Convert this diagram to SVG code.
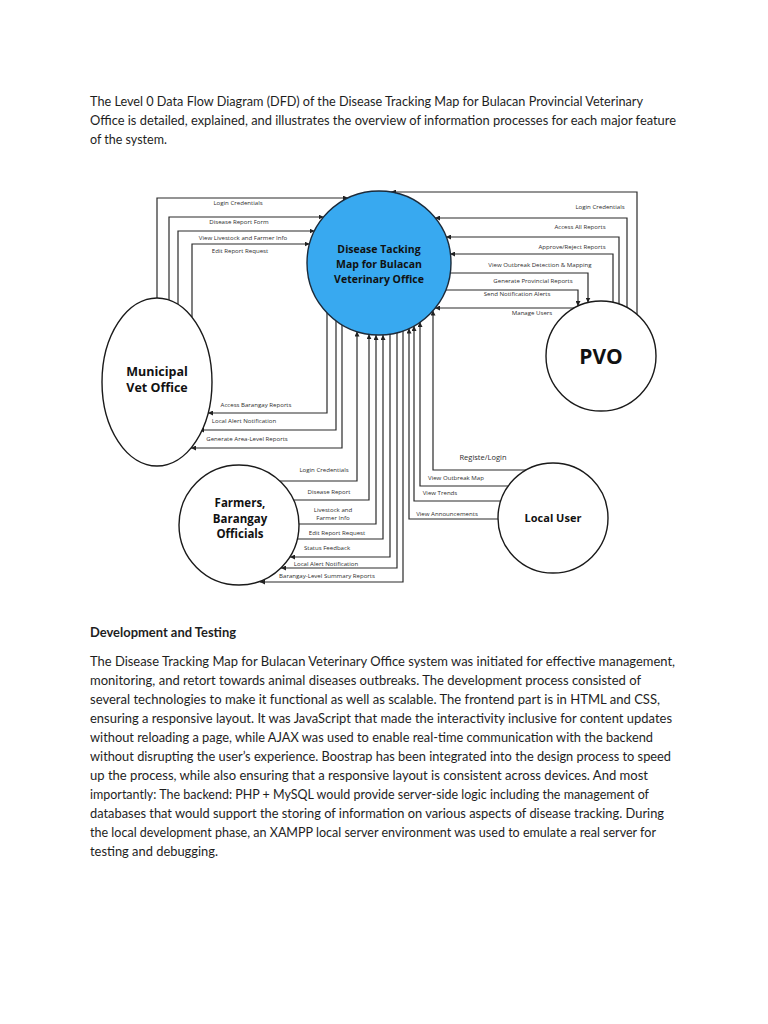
<svg xmlns="http://www.w3.org/2000/svg" width="768" height="1024" viewBox="0 0 768 1024">
<defs>
<marker id="ah" viewBox="0 0 10 10" refX="10" refY="5" markerWidth="5" markerHeight="5" markerUnits="userSpaceOnUse" orient="auto">
<path d="M0,0 L10,5 L0,10 z" fill="#222"/>
</marker>
<style>
.body{font-family:Lato,"Liberation Sans",sans-serif;font-size:13px;fill:#1e1e1e}
.bold{font-weight:bold}
.lbl{font-family:"Open Sans","Liberation Sans",sans-serif;font-size:6.1px;fill:#2e2e2e;text-anchor:middle}
.node{fill:#fff;stroke:#1a1a1a;stroke-width:1.4}
.nt{font-family:"Open Sans","Liberation Sans",sans-serif;font-weight:bold;fill:#111;text-anchor:middle}
.c{fill:none;stroke:#2a2a2a;stroke-width:1.2}
.a{marker-end:url(#ah)}
</style>
</defs>
<rect width="768" height="1024" fill="#fff"/>

<g id="intro">
<text class="body" x="90" y="106" textLength="553" lengthAdjust="spacingAndGlyphs">The Level 0 Data Flow Diagram (DFD) of the Disease Tracking Map for Bulacan Provincial Veterinary</text>
<text class="body" x="90" y="125" textLength="586" lengthAdjust="spacingAndGlyphs">Office is detailed, explained, and illustrates the overview of information processes for each major feature</text>
<text class="body" x="90" y="144" style="font-size:12.5px">of the system.</text>
</g>

<g id="connectors">
<path class="c a" d="M157,298 V198 H348"/>
<path class="c a" d="M169,300 V217 H323.6"/>
<path class="c a" d="M178,304 V231 H314.5"/>
<path class="c a" d="M192,317 V244 H309.6"/>
<path class="c a" d="M327,313 V413 H208"/>
<path class="c a" d="M336,321 V430 H199"/>
<path class="c a" d="M342,325 V448 H191"/>
<path class="c a" d="M637,314 V192 H391"/>
<path class="c a" d="M627,307.5 V218 H435"/>
<path class="c a" d="M619,304 V237 H446"/>
<path class="c a" d="M613,302 V254 H450"/>
<path class="c a" d="M450,273 H588 V302.6"/>
<path class="c a" d="M446,290 H578 V306"/>
<path class="c a" d="M574,308 H435"/>
<path class="c a" d="M280,481 H357 V331.6"/>
<path class="c a" d="M293.5,500 H369 V334.3"/>
<path class="c a" d="M299,524 H376 V335"/>
<path class="c a" d="M297,539 H383 V335"/>
<path class="c a" d="M390,334 V557 H290"/>
<path class="c a" d="M397,332.7 V568 H281"/>
<path class="c a" d="M403,331 V582 H260"/>
<path class="c a" d="M526,470 H433 V310.6"/>
<path class="c a" d="M508,486 H420 V322"/>
<path class="c a" d="M500.7,501 H414 V326"/>
<path class="c a" d="M498,519 H409 V328.5"/>
</g>

<g id="labels">
<text class="lbl" x="238" y="205">Login Credentials</text>
<text class="lbl" x="239" y="224">Disease Report Form</text>
<text class="lbl" x="243" y="240">View Livestock and Farmer Info</text>
<text class="lbl" x="240" y="253">Edit Report Request</text>
<text class="lbl" x="256" y="407">Access Barangay Reports</text>
<text class="lbl" x="244" y="423">Local Alert Notification</text>
<text class="lbl" x="247" y="441">Generate Area-Level Reports</text>
<text class="lbl" x="600" y="209">Login Credentials</text>
<text class="lbl" x="580" y="229">Access All Reports</text>
<text class="lbl" x="572" y="249">Approve/Reject Reports</text>
<text class="lbl" x="540" y="267">View Outbreak Detection &amp; Mapping</text>
<text class="lbl" x="533" y="283">Generate Provincial Reports</text>
<text class="lbl" x="517" y="296">Send Notification Alerts</text>
<text class="lbl" x="532" y="315">Manage Users</text>
<text class="lbl" x="324" y="472">Login Credentials</text>
<text class="lbl" x="329" y="494">Disease Report</text>
<text class="lbl" x="333" y="512">Livestock and</text>
<text class="lbl" x="333" y="520">Farmer Info</text>
<text class="lbl" x="337" y="535">Edit Report Request</text>
<text class="lbl" x="327" y="550">Status Feedback</text>
<text class="lbl" x="326" y="566">Local Alert Notification</text>
<text class="lbl" x="327" y="578">Barangay-Level Summary Reports</text>
<text class="lbl" x="483" y="460" style="font-size:7.5px">Registe/Login</text>
<text class="lbl" x="456" y="480">View Outbreak Map</text>
<text class="lbl" x="440" y="495">View Trends</text>
<text class="lbl" x="447" y="516">View Announcements</text>
</g>

<g id="central">
<circle cx="379" cy="263" r="72" fill="#38a9f0" stroke="#1a2a3a" stroke-width="1.4"/>
<text class="nt" x="379" y="253" font-size="10.5">Disease Tacking</text>
<text class="nt" x="379" y="268" font-size="10.5">Map for Bulacan</text>
<text class="nt" x="379" y="283" font-size="10.5">Veterinary Office</text>
</g>

<g id="municipal">
<ellipse class="node" cx="157" cy="382" rx="55" ry="84"/>
<text class="nt" x="157" y="376" font-size="12.5">Municipal</text>
<text class="nt" x="157" y="392" font-size="12.5">Vet Office</text>
</g>

<g id="pvo">
<circle class="node" cx="601" cy="356" r="55"/>
<text class="nt" x="601" y="364" font-size="21">PVO</text>
</g>

<g id="farmers">
<circle class="node" cx="239" cy="525" r="60"/>
<text class="nt" x="240" y="507" font-size="11.5">Farmers,</text>
<text class="nt" x="240" y="523" font-size="11.5">Barangay</text>
<text class="nt" x="240" y="538" font-size="11.5">Officials</text>
</g>

<g id="localuser">
<circle class="node" cx="553" cy="518" r="55"/>
<text class="nt" x="553" y="522" font-size="11">Local User</text>
</g>

<g id="development">
<text class="body bold" x="90" y="637" textLength="146" lengthAdjust="spacingAndGlyphs">Development and Testing</text>
<text class="body" x="90" y="666" textLength="585" lengthAdjust="spacingAndGlyphs">The Disease Tracking Map for Bulacan Veterinary Office system was initiated for effective management,</text>
<text class="body" x="90" y="685" textLength="551" lengthAdjust="spacingAndGlyphs">monitoring, and retort towards animal diseases outbreaks. The development process consisted of</text>
<text class="body" x="90" y="704" textLength="570" lengthAdjust="spacingAndGlyphs">several technologies to make it functional as well as scalable. The frontend part is in HTML and CSS,</text>
<text class="body" x="90" y="723" textLength="582" lengthAdjust="spacingAndGlyphs">ensuring a responsive layout. It was JavaScript that made the interactivity inclusive for content updates</text>
<text class="body" x="90" y="742" textLength="563" lengthAdjust="spacingAndGlyphs">without reloading a page, while AJAX was used to enable real-time communication with the backend</text>
<text class="body" x="90" y="761" textLength="581" lengthAdjust="spacingAndGlyphs">without disrupting the user’s experience. Boostrap has been integrated into the design process to speed</text>
<text class="body" x="90" y="780" textLength="558" lengthAdjust="spacingAndGlyphs">up the process, while also ensuring that a responsive layout is consistent across devices. And most</text>
<text class="body" x="90" y="799" textLength="559" lengthAdjust="spacingAndGlyphs">importantly: The backend: PHP + MySQL would provide server-side logic including the management of</text>
<text class="body" x="90" y="818" textLength="574" lengthAdjust="spacingAndGlyphs">databases that would support the storing of information on various aspects of disease tracking. During</text>
<text class="body" x="90" y="837" textLength="566" lengthAdjust="spacingAndGlyphs">the local development phase, an XAMPP local server environment was used to emulate a real server for</text>
<text class="body" x="90" y="856" textLength="128" lengthAdjust="spacingAndGlyphs">testing and debugging.</text>
</g>
</svg>
